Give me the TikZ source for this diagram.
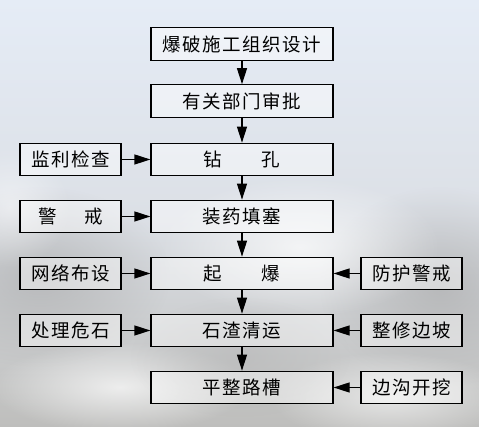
\documentclass[tikz,border=0pt]{standalone}
\usepackage{fontspec}
\newfontfamily\cjk[LetterSpace=8]{Noto Sans CJK SC}
\usetikzlibrary{arrows.meta,fadings}
\tikzfading[name=softblob, inner color=transparent!0, outer color=transparent!100]
\begin{document}
\begin{tikzpicture}[x=1pt,y=1pt,
  box/.style={draw=black,line width=1.2pt,fill=white,fill opacity=0.45,text opacity=1,
    minimum height=32.5pt,inner sep=0pt,font=\cjk\fontsize{18.5}{20}\selectfont},
  mainbox/.style={box,minimum width=182pt},
  sidebox/.style={box,minimum width=101pt},
  arr/.style={line width=1.2pt,-{Triangle[length=16pt,width=10pt]}},
  blob/.style={path fading=softblob}]
\useasboundingbox (0,0) rectangle (479,427);
% background sky
\shade[top color={rgb,255:red,229;green,236;blue,246}, bottom color={rgb,255:red,190;green,190;blue,188},
  middle color={rgb,255:red,220;green,224;blue,230}] (0,0) rectangle (479,427);
\fill[gray!75,opacity=0.5,blob] (40,150) ellipse (130 and 90);
\fill[gray!75,opacity=0.5,blob] (440,140) ellipse (120 and 100);
\fill[white,opacity=0.7,blob] (300,180) ellipse (140 and 70);
\fill[white,opacity=0.7,blob] (120,40) ellipse (130 and 45);
\fill[white,opacity=0.6,blob] (390,30) ellipse (120 and 45);
\fill[gray!60,opacity=0.45,blob] (240,70) ellipse (110 and 60);
\fill[white,opacity=0.5,blob] (10,220) ellipse (60 and 60);
% main column
\node[mainbox] (m1) at (242,383) {爆破施工组织设计};
\node[mainbox] (m2) at (242,326) {有关部门审批};
\node[mainbox] (m3) at (242,267.5) {钻\hspace{2.15em}孔};
\node[mainbox] (m4) at (242,210.5) {装药填塞};
\node[mainbox] (m5) at (242,153.5) {起\hspace{2.15em}爆};
\node[mainbox] (m6) at (242,96.5) {石渣清运};
\node[mainbox] (m7) at (242,39.5) {平整路槽};
% left column
\node[sidebox] (l3) at (70.5,267.5) {监利检查};
\node[sidebox] (l4) at (70.5,210.5) {警\hspace{1.5em}戒};
\node[sidebox] (l5) at (70.5,153.5) {网络布设};
\node[sidebox] (l6) at (70.5,96.5) {处理危石};
% right column
\node[sidebox] (r5) at (411.5,153.5) {防护警戒};
\node[sidebox] (r6) at (411.5,96.5) {整修边坡};
\node[sidebox] (r7) at (411.5,39.5) {边沟开挖};
% arrows
\foreach \a/\b in {m1/m2,m2/m3,m3/m4,m4/m5,m5/m6,m6/m7}
  \draw[arr] (\a) -- (\b);
\foreach \a/\b in {l3/m3,l4/m4,l5/m5,l6/m6,r5/m5,r6/m6,r7/m7}
  \draw[arr] (\a) -- (\b);
\end{tikzpicture}
\end{document}
